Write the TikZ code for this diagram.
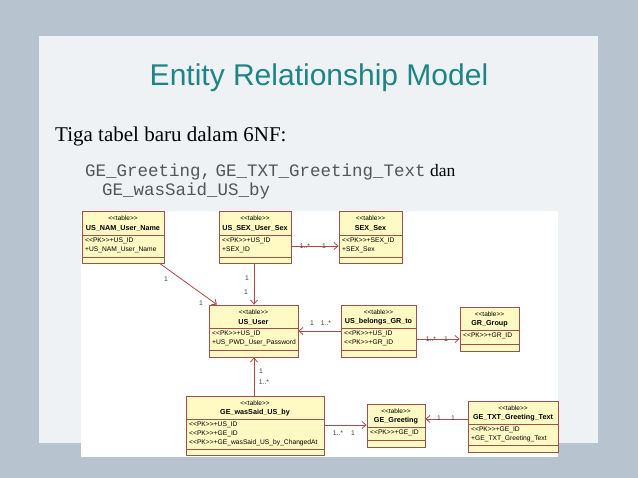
\documentclass[tikz,border=0pt]{standalone}
\usepackage{fontspec}
\setmainfont{Liberation Serif}
\setsansfont{Liberation Sans}
\setmonofont{Liberation Mono}
\usetikzlibrary{arrows.meta}
\definecolor{bgc}{HTML}{B7C3CE}
\definecolor{panel}{HTML}{EFF2F5}
\definecolor{teal}{HTML}{1E8584}
\definecolor{tblfill}{HTML}{FFF9C4}
\definecolor{tbldraw}{HTML}{A0504A}
\definecolor{relc}{HTML}{B04848}
\definecolor{monoc}{HTML}{555555}
\tikzset{
  tbl/.style={draw=tbldraw,fill=tblfill,line width=0.8pt,inner sep=0pt},
  rel/.style={draw=relc,line width=0.8pt,-{Straight Barb[length=4pt,width=7pt]}},
  mult/.style={font=\sffamily\fontsize{6.8}{7}\selectfont,text=black!75,inner sep=0pt},
  stereo/.style={font=\sffamily\fontsize{6.5}{7}\selectfont,inner sep=0pt},
  tname/.style={font=\sffamily\bfseries\fontsize{7.2}{8}\selectfont,inner sep=0pt},
  attr/.style={font=\sffamily\fontsize{6.7}{9}\selectfont,inner sep=0pt,align=left,anchor=north west}
}
% name, x1,y1,x2,y2, div1, div2, title, attrs
\newcommand\umltbl[9]{%
  \node[tbl,minimum width=#4pt-#2pt,minimum height=#5pt-#3pt] (#1) at ({(#2+#4)/2},{(#3+#5)/2}) {};
  \draw[tbldraw,line width=0.8pt] (#2,#6) -- (#4,#6) (#2,#7) -- (#4,#7);
  \node[stereo] at ({(#2+#4)/2},#3+7) {<{}<table>{}>};
  \node[tname] at ({(#2+#4)/2},#3+17) {#8};
  \node[attr] at (#2+3,#6+2.5) {#9};
}
\begin{document}
\begin{tikzpicture}[x=1pt,y=-1pt]
\useasboundingbox (0,0) rectangle (638,478);
\fill[bgc] (0,0) rectangle (638,478);
\fill[panel] (39,36) rectangle (598,443);
\node[font=\sffamily\fontsize{30}{32}\selectfont,text=teal] (title) at (319,78) {Entity Relationship Model};
\node[font=\rmfamily\fontsize{21}{23}\selectfont,anchor=west,inner sep=0pt] (sub) at (55,136) {Tiga tabel baru dalam 6NF:};
\node[anchor=west,inner sep=0pt,font=\fontsize{17.5}{19}\selectfont] (l1) at (85,172) {{\ttfamily\color{monoc}GE\_Greeting,}\rmfamily\ {\ttfamily\color{monoc}GE\_TXT\_Greeting\_Text} dan};
\node[anchor=west,inner sep=0pt,font=\ttfamily\fontsize{17.5}{19}\selectfont,text=monoc] (l2) at (102,191) {GE\_wasSaid\_US\_by};
\fill[white] (81,211) rectangle (558,457);

\umltbl{usnam}{82}{211}{164}{263}{235}{257}{US\_NAM\_User\_Name}{<{}<PK>{}>+US\_ID\\+US\_NAM\_User\_Name}
\umltbl{ussex}{219}{211}{291}{263}{235}{257}{US\_SEX\_User\_Sex}{<{}<PK>{}>+US\_ID\\+SEX\_ID}
\umltbl{sexsex}{339}{211}{402}{263}{235}{257}{SEX\_Sex}{<{}<PK>{}>+SEX\_ID\\+SEX\_Sex}
\umltbl{ususer}{209}{305}{298}{357}{328}{350}{US\_User}{<{}<PK>{}>+US\_ID\\+US\_PWD\_User\_Password}
\umltbl{usbel}{341}{305}{416}{357}{328}{350}{US\_belongs\_GR\_to}{<{}<PK>{}>+US\_ID\\<{}<PK>{}>+GR\_ID}
\umltbl{grgroup}{460}{307}{519}{351}{330}{344}{GR\_Group}{<{}<PK>{}>+GR\_ID}
\umltbl{gewas}{186}{396}{324}{455}{419}{449}{GE\_wasSaid\_US\_by}{<{}<PK>{}>+US\_ID\\<{}<PK>{}>+GE\_ID\\<{}<PK>{}>+GE\_wasSaid\_US\_by\_ChangedAt}
\umltbl{gegreet}{367}{404}{425}{447}{427}{440}{GE\_Greeting}{<{}<PK>{}>+GE\_ID}
\umltbl{getxt}{468}{401}{558}{452}{424}{445}{GE\_TXT\_Greeting\_Text}{<{}<PK>{}>+GE\_ID\\+GE\_TXT\_Greeting\_Text}

\draw[rel] (usnam) -- (ususer);
\draw[rel] (ussex.south -| 254,0) -- (ususer.north -| 254,0);
\draw[rel] (ussex.east |- 0,246) -- (sexsex.west |- 0,246);
\draw[rel] (usbel.west |- 0,331) -- (ususer.east |- 0,331);
\draw[rel] (usbel.east |- 0,339) -- (grgroup.west |- 0,339);
\draw[rel] (gewas.north -| 254,0) -- (ususer.south -| 254,0);
\draw[rel] (gewas.east |- 0,425) -- (gegreet.west |- 0,425);
\draw[rel] (getxt.west |- 0,419) -- (gegreet.east |- 0,419);

\node[mult] at (166,279) {1};
\node[mult] at (201,303) {1};
\node[mult] at (247,278) {1};
\node[mult] at (246,292) {1};
\node[mult] at (305,246) {1..*};
\node[mult] at (324,246) {1};
\node[mult] at (312,323) {1};
\node[mult] at (326,323) {1..*};
\node[mult] at (431,339) {1..*};
\node[mult] at (446,339) {1};
\node[mult] at (261,371) {1};
\node[mult] at (264,382) {1..*};
\node[mult] at (338,433) {1..*};
\node[mult] at (353,433) {1};
\node[mult] at (439,418) {1};
\node[mult] at (453,418) {1};
\end{tikzpicture}
\end{document}
